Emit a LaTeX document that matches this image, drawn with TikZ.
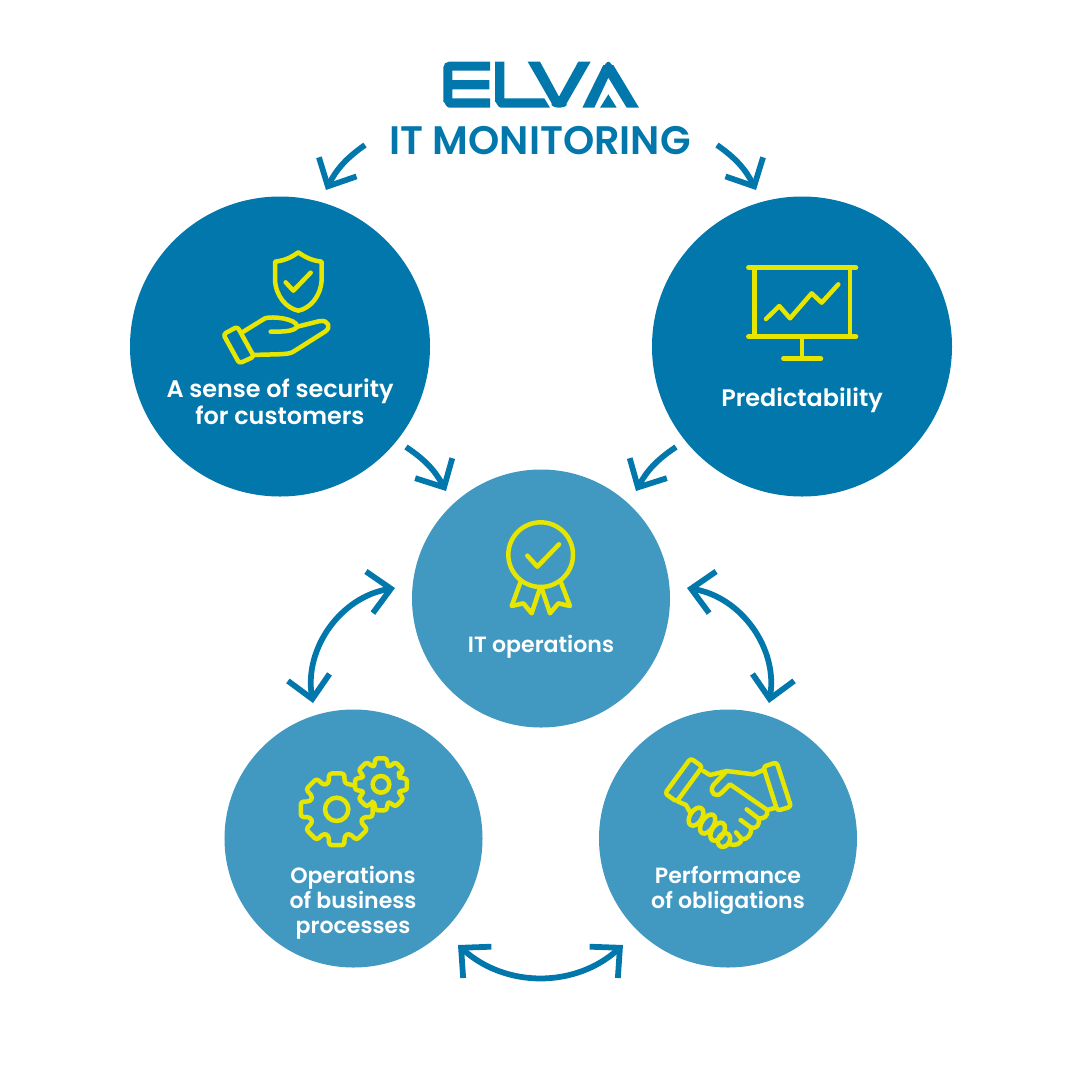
\documentclass[tikz,border=0pt]{standalone}
\usepackage{fontspec}
\setmainfont{Poppins}[BoldFont={Poppins SemiBold}]
\usetikzlibrary{arrows.meta}
\definecolor{elvadark}{HTML}{0277AB}
\definecolor{elvalight}{HTML}{4199C2}
\definecolor{elvayellow}{HTML}{E6E600}
\tikzset{
	bigdot/.style={circle,fill=elvadark,inner sep=0pt,minimum size=75mm},
	smalldot/.style={circle,fill=elvalight,inner sep=0pt,minimum size=64.5mm},
	bigcaption/.style={text=white,align=center,inner sep=0pt,font=\fontsize{17}{19.2}\selectfont\bfseries},
	smallcaption/.style={text=white,align=center,inner sep=0pt,font=\fontsize{15.7}{17.9}\selectfont\bfseries},
	icon/.style={draw=elvayellow,line width=3.2pt,line cap=round,line join=round},
	flow/.style={color=elvadark,line width=4.1pt},
	tip/.tip={Straight Barb[length=15.5pt,width=30pt,line width=4.1pt]},
}
\begin{document}
\begin{tikzpicture}
	\pgfsetxvec{\pgfpoint{0.25mm}{0.0mm}}
	\pgfsetyvec{\pgfpoint{0.0mm}{-0.25mm}}
	\useasboundingbox (0,0) rectangle (1080,1080);

	\node[bigdot] at (280,346.5) (security) {};
	\node[bigdot] at (802,346.5) (predict) {};
	\node[smalldot] at (541,598.5) (itops) {};
	\node[smalldot] at (353.5,838.5) (business) {};
	\node[smalldot] at (728,838.5) (obligations) {};

	\node[bigcaption] at (280,402) (securitytext) {A sense of security\\for customers};
	\node[bigcaption] at (802,400) (predicttext) {Predictability};
	\node[smallcaption] at (541,647) (itopstext) {IT operations};
	\node[smallcaption] at (353,903) (businesstext) {Operations\\of business\\processes};
	\node[smallcaption] at (728,890.5) (obligationstext) {Performance\\of obligations};
	\node[text=elvadark,inner sep=0pt,font=\fontsize{28.3}{28.3}\selectfont\bfseries] at (540,141) (title) {IT MONITORING};

	\coordinate (a1) at (365,145);
	\coordinate (b1) at (326,190);
	\coordinate (a2) at (717,145);
	\coordinate (b2) at (756,190);
	\coordinate (a3) at (406,447);
	\coordinate (b3) at (446,491);
	\coordinate (a4) at (676,447);
	\coordinate (b4) at (636,491);
	\coordinate (a5) at (395,588);
	\coordinate (b5) at (313,703);
	\coordinate (a6) at (687,588);
	\coordinate (b6) at (769,703);
	\coordinate (a7) at (458,945);
	\coordinate (b7) at (623,945);
	\path[flow,-tip]
	(a1) edge[bend right=14] (b1)
	(a2) edge[bend left=14] (b2)
	(a3) edge[bend left=14] (b3)
	(a4) edge[bend right=14] (b4);
	\path[flow,tip-tip]
	(a5) edge[bend right=45] (b5)
	(a6) edge[bend left=45] (b6)
	(a7) edge[bend right=42] (b7);

	\begin{scope}[shift={(435,55)},scale=1/3]
	\fill[elvadark] (165,20) -- (42,20) to[out=180,in=90] (25,37) -- (25,141) to[out=90,in=180] (42,158) -- (165,158) -- (165,130) -- (52,130) -- (52,103) -- (163,103) -- (163,75) -- (52,75) -- (52,47) -- (165,47) -- cycle;
	\fill[elvadark] (180,20) -- (208,20) -- (208,130) -- (328,130) -- (345,158) -- (197,158) to[out=180,in=90] (180,141) -- cycle;
	\fill[elvadark] (278,20) -- (315,20) -- (372,125) -- (430,20) -- (467,20) -- (395,145) to[out=-60,in=0] (372,158) to[out=180,in=-120] (350,145) -- cycle;
	\fill[elvadark] (442,158) -- (505,30) to[out=-60,in=180] (520,20) to[out=0,in=-120] (535,30) -- (612,158) -- (575,158) -- (520,68) -- (478,158) -- cycle;
	\fill[elvadark] (495,158) -- (520,118) -- (545,158) -- cycle;
	\end{scope}

	\begin{scope}[shift={(200,240)},scale=1/3]
	\draw[icon] (295,37) .. controls (270,55) and (250,62) .. (225,65) -- (225,120) .. controls (228,170) and (260,205) .. (295,212) .. controls (330,205) and (362,170) .. (365,120) -- (365,65) .. controls (340,62) and (320,55) .. (295,37) -- cycle;
	\draw[icon] (257,127) -- (280,152) -- (332,98);
	\draw[icon,rounded corners=2pt] (70,283) -- (112,260) -- (162,350) -- (118,370) -- cycle;
	\draw[icon] (130,275) -- (195,235) .. controls (215,228) and (290,235) .. (292,260) .. controls (280,275) and (250,275) .. (212,275);
	\draw[icon] (292,260) -- (360,243) .. controls (385,240) and (395,262) .. (375,275) -- (280,335) .. controls (265,345) and (230,342) .. (160,345);
	\end{scope}

	\begin{scope}[shift={(730,250)},scale=1/3]
	\draw[icon] (55,53) -- (378,53);
	\draw[icon] (73,53) -- (73,260);
	\draw[icon] (360,53) -- (360,260);
	\draw[icon] (55,260) -- (378,260);
	\draw[icon] (216,260) -- (216,326);
	\draw[icon] (160,326) -- (273,326);
	\draw[icon] (108,207) -- (148,168) -- (180,205) -- (245,130) -- (275,158) -- (325,103);
	\end{scope}

	\begin{scope}[shift={(490,510)},scale=1/3]
	\draw[icon] (152,134) circle (97);
	\draw[icon] (112,137) -- (142,170) -- (207,103);
	\draw[icon] (92,215) -- (65,288) -- (100,280) -- (125,310) -- (150,235);
	\draw[icon] (212,215) -- (240,288) -- (205,280) -- (180,310) -- (155,235);
	\end{scope}

	\begin{scope}[shift={(285,745)},scale=1/3]
	\draw[icon] (155,193) circle (35);
	\draw[icon,rounded corners=2pt,shift={(155,193)}] (-12:110) -- (12:110) -- (17:82)
		\foreach \a in {45,90,...,270} { -- (\a-17:82) -- (\a-12:110) -- (\a+12:110) -- (\a+17:82) }
		-- (305:88);
	\draw[icon] (288,118) circle (25);
	\draw[icon,rounded corners=2pt,shift={(288,118)}] (-27:60)
		\foreach \a in {0,45,...,315} { -- (\a-18:60) -- (\a-13:80) -- (\a+13:80) -- (\a+18:60) }
		-- cycle;
	\end{scope}

	\begin{scope}[shift={(650,745)},scale=1/3]
	\draw[icon,rounded corners=2pt] (122,40) -- (157,65) -- (80,170) -- (45,145) -- cycle;
	\draw[icon,rounded corners=2pt] (340,65) -- (380,52) -- (423,185) -- (382,197) -- cycle;
	\draw[icon] (160,78) -- (180,90) -- (230,78) -- (310,88) -- (340,75);
	\draw[icon] (230,78) -- (190,120) .. controls (175,145) and (200,160) .. (215,143) -- (240,118) -- (352,195) -- (378,188);
	\draw[icon] (352,195) .. controls (355,215) and (340,222) .. (325,220) -- (290,193);
	\draw[icon] (325,220) .. controls (332,240) and (318,252) .. (303,248) -- (272,225);
	\draw[icon] (303,248) .. controls (306,270) and (290,285) .. (275,282) -- (258,262);
	\draw[icon] (275,282) .. controls (275,295) and (255,305) .. (238,297);
	\draw[icon] (85,170) -- (108,180) -- (122,205);
	\draw[icon] (138,215) ellipse[x radius=30,y radius=18,rotate=58];
	\draw[icon] (173,237) ellipse[x radius=32,y radius=18,rotate=58];
	\draw[icon] (203,260) ellipse[x radius=30,y radius=18,rotate=58];
	\draw[icon] (222,285) ellipse[x radius=22,y radius=17,rotate=58];
	\end{scope}

	\end{tikzpicture}
\end{document}
